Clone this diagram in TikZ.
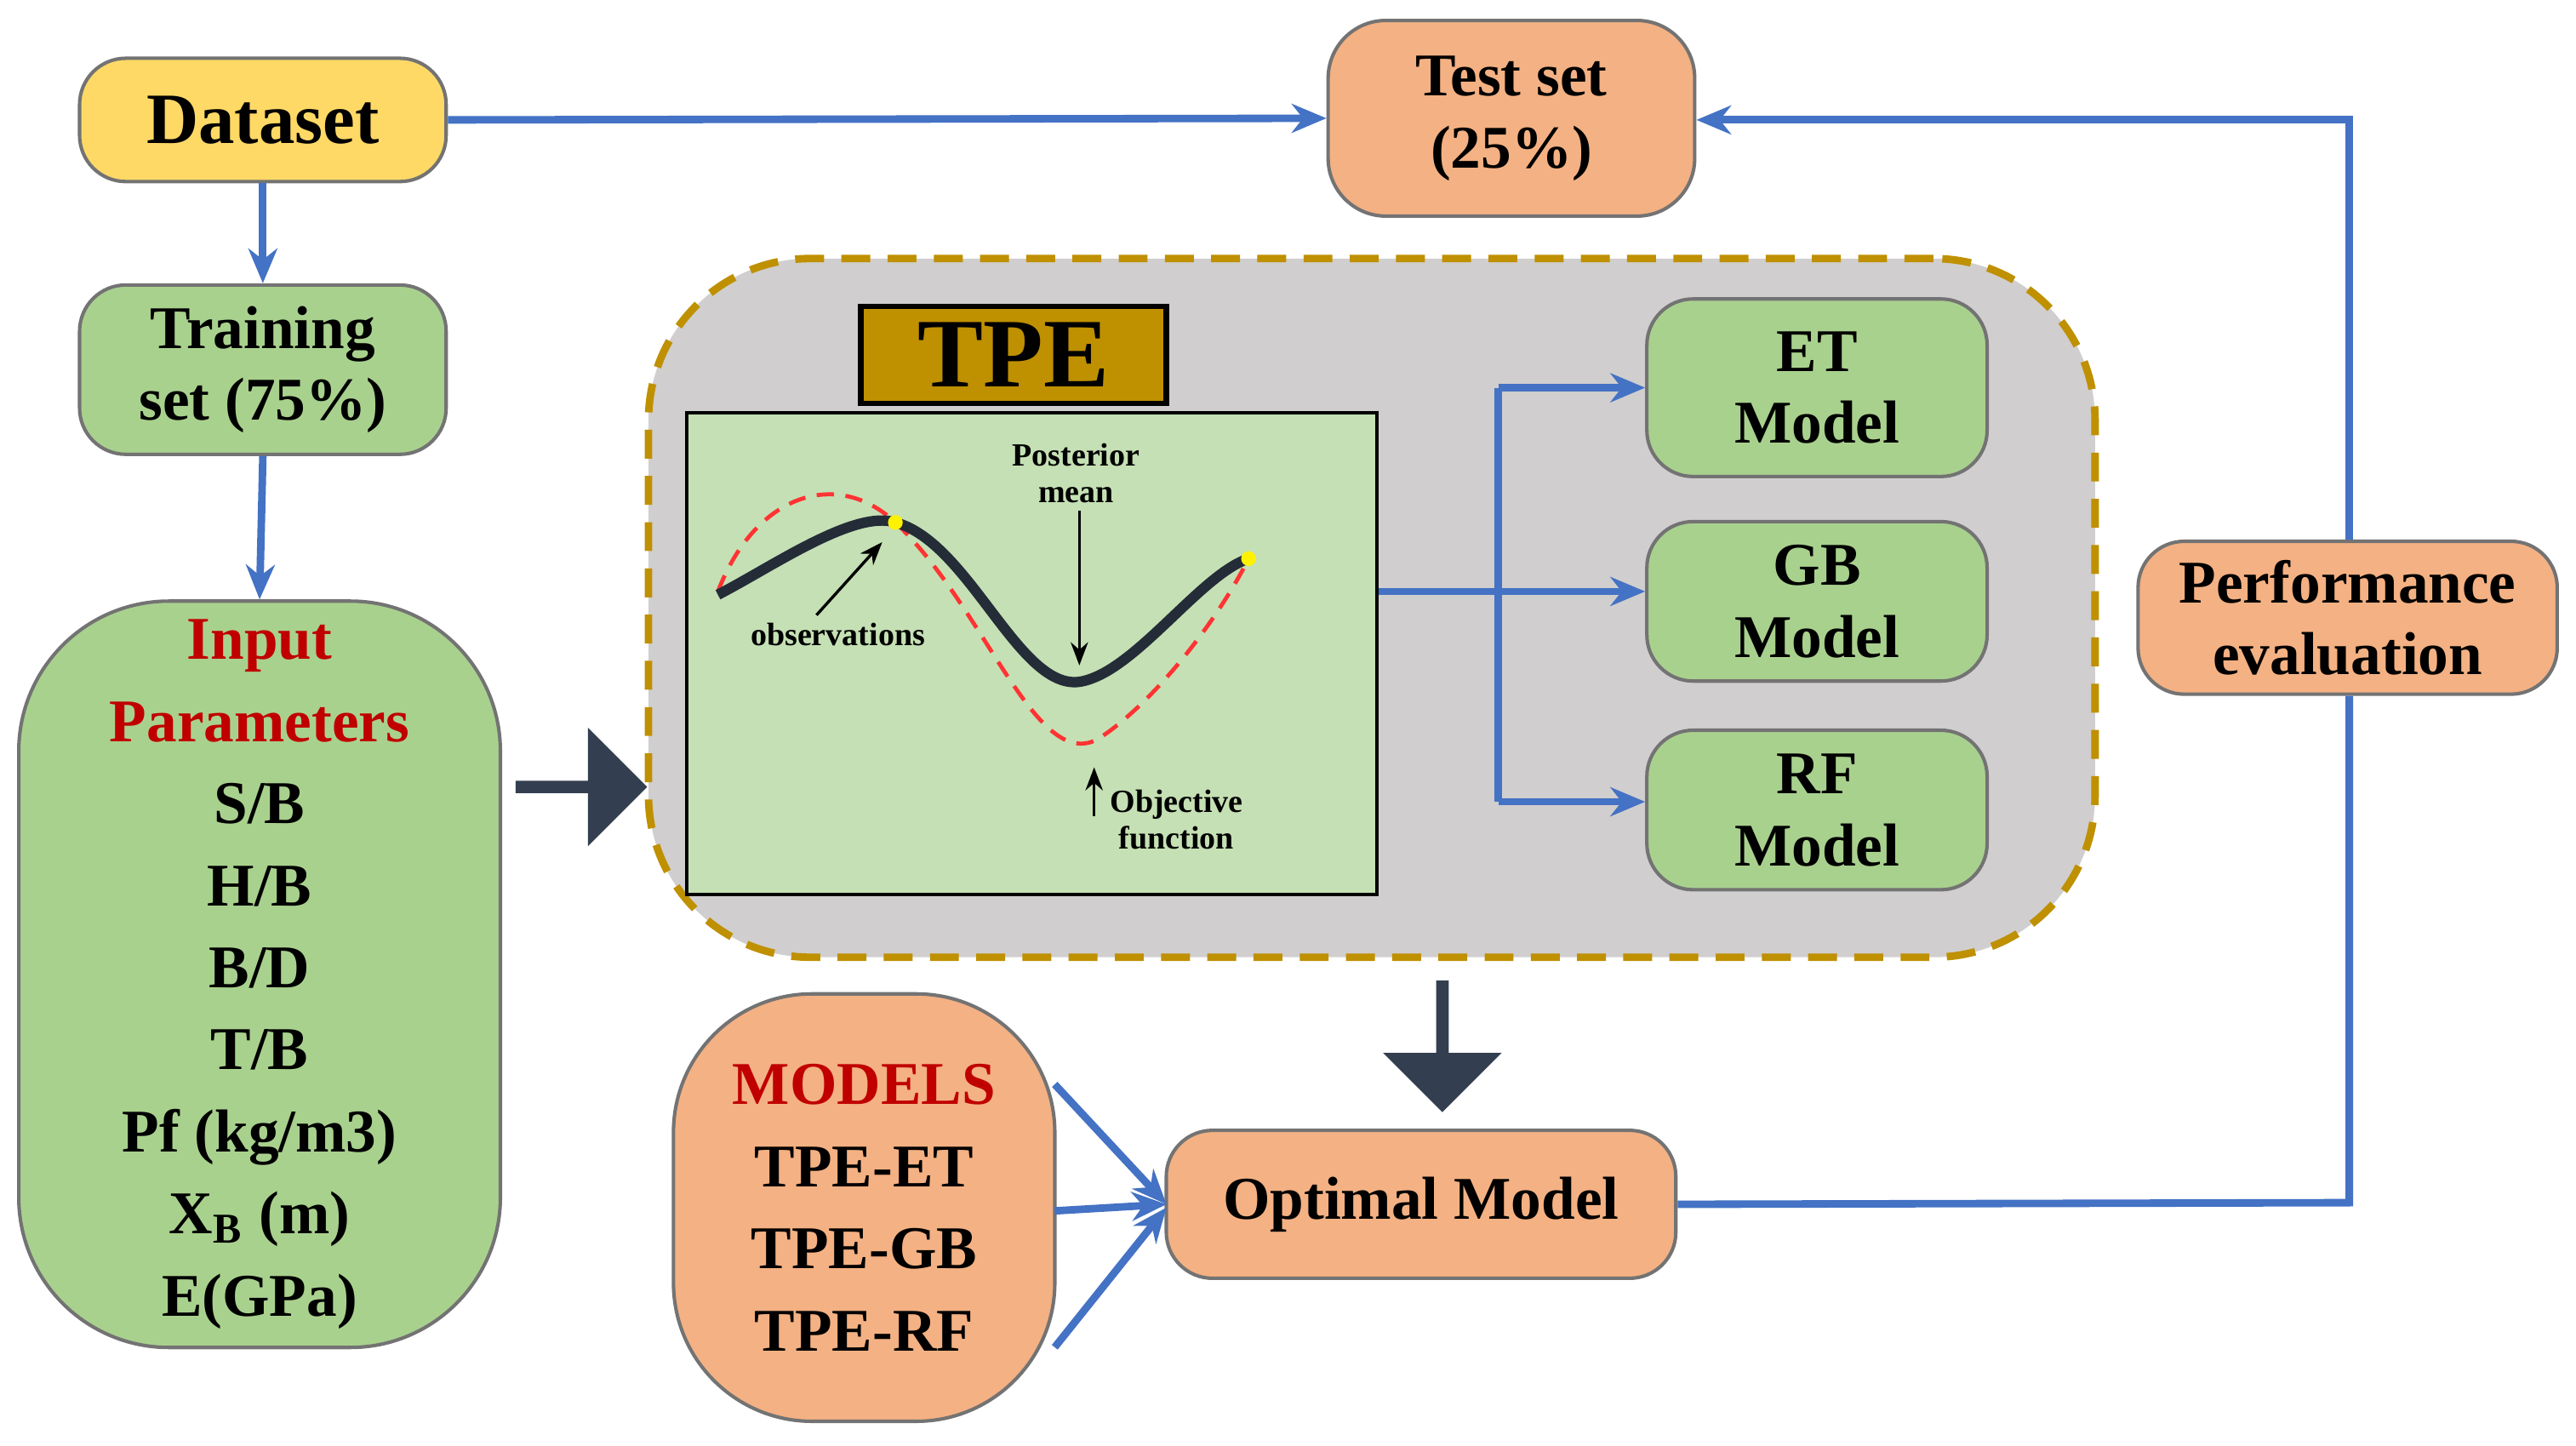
\documentclass[tikz,border=0pt]{standalone}
\usepackage{fontspec}
\setmainfont{Liberation Serif}
\usetikzlibrary{arrows.meta,shapes.arrows}
\definecolor{ygold}{HTML}{FFD966}
\definecolor{org}{HTML}{F4B183}
\definecolor{grn}{HTML}{A9D18E}
\definecolor{lgrn}{HTML}{C5E0B4}
\definecolor{gry}{HTML}{D0CECE}
\definecolor{gold}{HTML}{BF9000}
\definecolor{navy}{HTML}{333F50}
\definecolor{blu}{HTML}{4472C4}
\definecolor{dred}{HTML}{C00000}
\begin{document}
\begin{tikzpicture}[x=0.01cm,y=-0.01cm,
 box/.style={draw=black!55,line width=0.6pt,rounded corners=8pt,align=center,font=\bfseries\fontsize{10.5}{12.5}\selectfont,inner sep=0pt},
 con/.style={blu,line width=1.3pt},
 arr/.style={con,-{Stealth[length=6pt,width=5pt]}},
 lab/.style={font=\bfseries\fontsize{5.6}{6.4}\selectfont,align=center,inner sep=0pt},
 bigarr/.style={single arrow,fill=navy,draw=none,minimum height=0.8cm,single arrow head extend=0.06cm,single arrow tip angle=90,inner sep=0pt,minimum width=0.72cm}]
\useasboundingbox (0,0) rectangle (1568,880);
\fill[white] (0,0) rectangle (1568,880);
% nodes
\node[box,fill=ygold,minimum width=2.23cm,minimum height=0.75cm,font=\bfseries\fontsize{12.5}{14}\selectfont] (ds) at (160,73) {Dataset};
\node[box,fill=org,minimum width=2.23cm,minimum height=1.19cm,rounded corners=10pt] (ts) at (920,72) {Test set\\(25\%)};
\node[box,fill=grn,minimum width=2.23cm,minimum height=1.03cm] (tr) at (160,225) {Training\\set (75\%)};
\node[box,fill=grn,minimum width=2.93cm,minimum height=4.54cm,rounded corners=26pt,font=\bfseries\fontsize{10.5}{14.2}\selectfont] (ip) at (158,593)
 {\textcolor{dred}{Input}\\\textcolor{dred}{Parameters}\\S/B\\H/B\\B/D\\T/B\\Pf (kg/m3)\\X\textsubscript{B} (m)\\E(GPa)};
% TPE container
\node[draw=gold,dashed,line width=1.3pt,dash pattern=on 5pt off 3pt,fill=gry,rounded corners=28pt,minimum width=8.8cm,minimum height=4.25cm] (tpe) at (835,370) {};
\node[draw=black,line width=1pt,fill=gold,minimum width=1.86cm,minimum height=0.59cm,inner sep=0pt,font=\bfseries\fontsize{17}{17}\selectfont] (tpel) at (617,216) {TPE};
\node[draw=black,line width=0.6pt,fill=lgrn,minimum width=4.2cm,minimum height=2.93cm,inner sep=0pt] (plot) at (628,398) {};
\node[box,fill=grn,minimum width=2.07cm,minimum height=1.08cm] (et) at (1106,236) {ET\\Model};
\node[box,fill=grn,minimum width=2.07cm,minimum height=0.97cm] (gb) at (1106,366) {GB\\Model};
\node[box,fill=grn,minimum width=2.07cm,minimum height=0.97cm] (rf) at (1106,493) {RF\\Model};
\node[box,fill=org,minimum width=2.55cm,minimum height=0.93cm] (pe) at (1429,376) {Performance\\evaluation};
\node[box,fill=org,minimum width=2.32cm,minimum height=2.6cm,rounded corners=24pt,font=\bfseries\fontsize{10.5}{14.2}\selectfont] (mo) at (526,735)
 {\textcolor{dred}{MODELS}\\TPE-ET\\TPE-GB\\TPE-RF};
\node[box,fill=org,minimum width=3.1cm,minimum height=0.9cm] (om) at (865,733) {Optimal Model};
% big arrows
\node[bigarr] (ba1) at (352,479) {};
\node[bigarr,rotate=-90] (ba2) at (878,635) {};
% plot curves
\draw[red!80,dashed,line width=0.7pt,dash pattern=on 3pt off 2pt] (437,360) .. controls (460,300) and (510,285) .. (545,318) .. controls (600,370) and (630,470) .. (668,450) .. controls (700,430) and (740,380) .. (760,340);
\draw[navy!70!black,line width=1.8pt] (437,362) .. controls (470,345) and (520,310) .. (545,318) .. controls (590,330) and (620,420) .. (657,415) .. controls (690,410) and (730,350) .. (760,340);
\fill[yellow] (545,318) circle (4.5) (760,340) circle (4.5);
\node[lab] (pm) at (655,288) {Posterior\\mean};
\node[lab] (ob) at (510,386) {observations};
\node[lab,anchor=west] (of) at (675,499) {Objective\\function};
\coordinate (pmt) at (657,405);
\coordinate (obt) at (537,330);
\coordinate (oft) at (666,467);
\coordinate (ofs) at (666,497);
\draw[-{Stealth[length=4pt,width=3pt]},line width=0.5pt] (pm.south -| pmt) ++(0,4) -- (pmt);
\draw[-{Stealth[length=4pt,width=3pt]},line width=0.5pt] (ob.north) ++(-13,-4) -- (obt);
\draw[-{Stealth[length=4pt,width=3pt]},line width=0.5pt] (ofs) -- (oft);
% connectors
\draw[arr] (ds.east) -- (ts.west);
\draw[arr] (ds.south) -- (tr.north);
\draw[arr] (tr.south) -- (ip.north);
\coordinate (j) at (912,360);
\draw[con] (plot.east |- j) -- (j);
\draw[arr] (912,236) |- (et.west);
\draw[arr] (j) -- (gb.west |- j);
\draw[con] (912,236) -- (912,488);
\draw[arr] (912,488) -- (rf.west |- 912,488);
\coordinate (c1) at (1430,732);
\coordinate (c2) at (1430,73);
\draw[con] (om.east) -- (c1) -- (pe.south -| c1);
\draw[arr] (pe.north -| c2) -- (c2) -- (ts.east |- c2);
\draw[arr] (642,660) -- (710,733);
\draw[arr] (642,737) -- (710,733);
\draw[arr] (642,820) -- (710,735);
\end{tikzpicture}
\end{document}
